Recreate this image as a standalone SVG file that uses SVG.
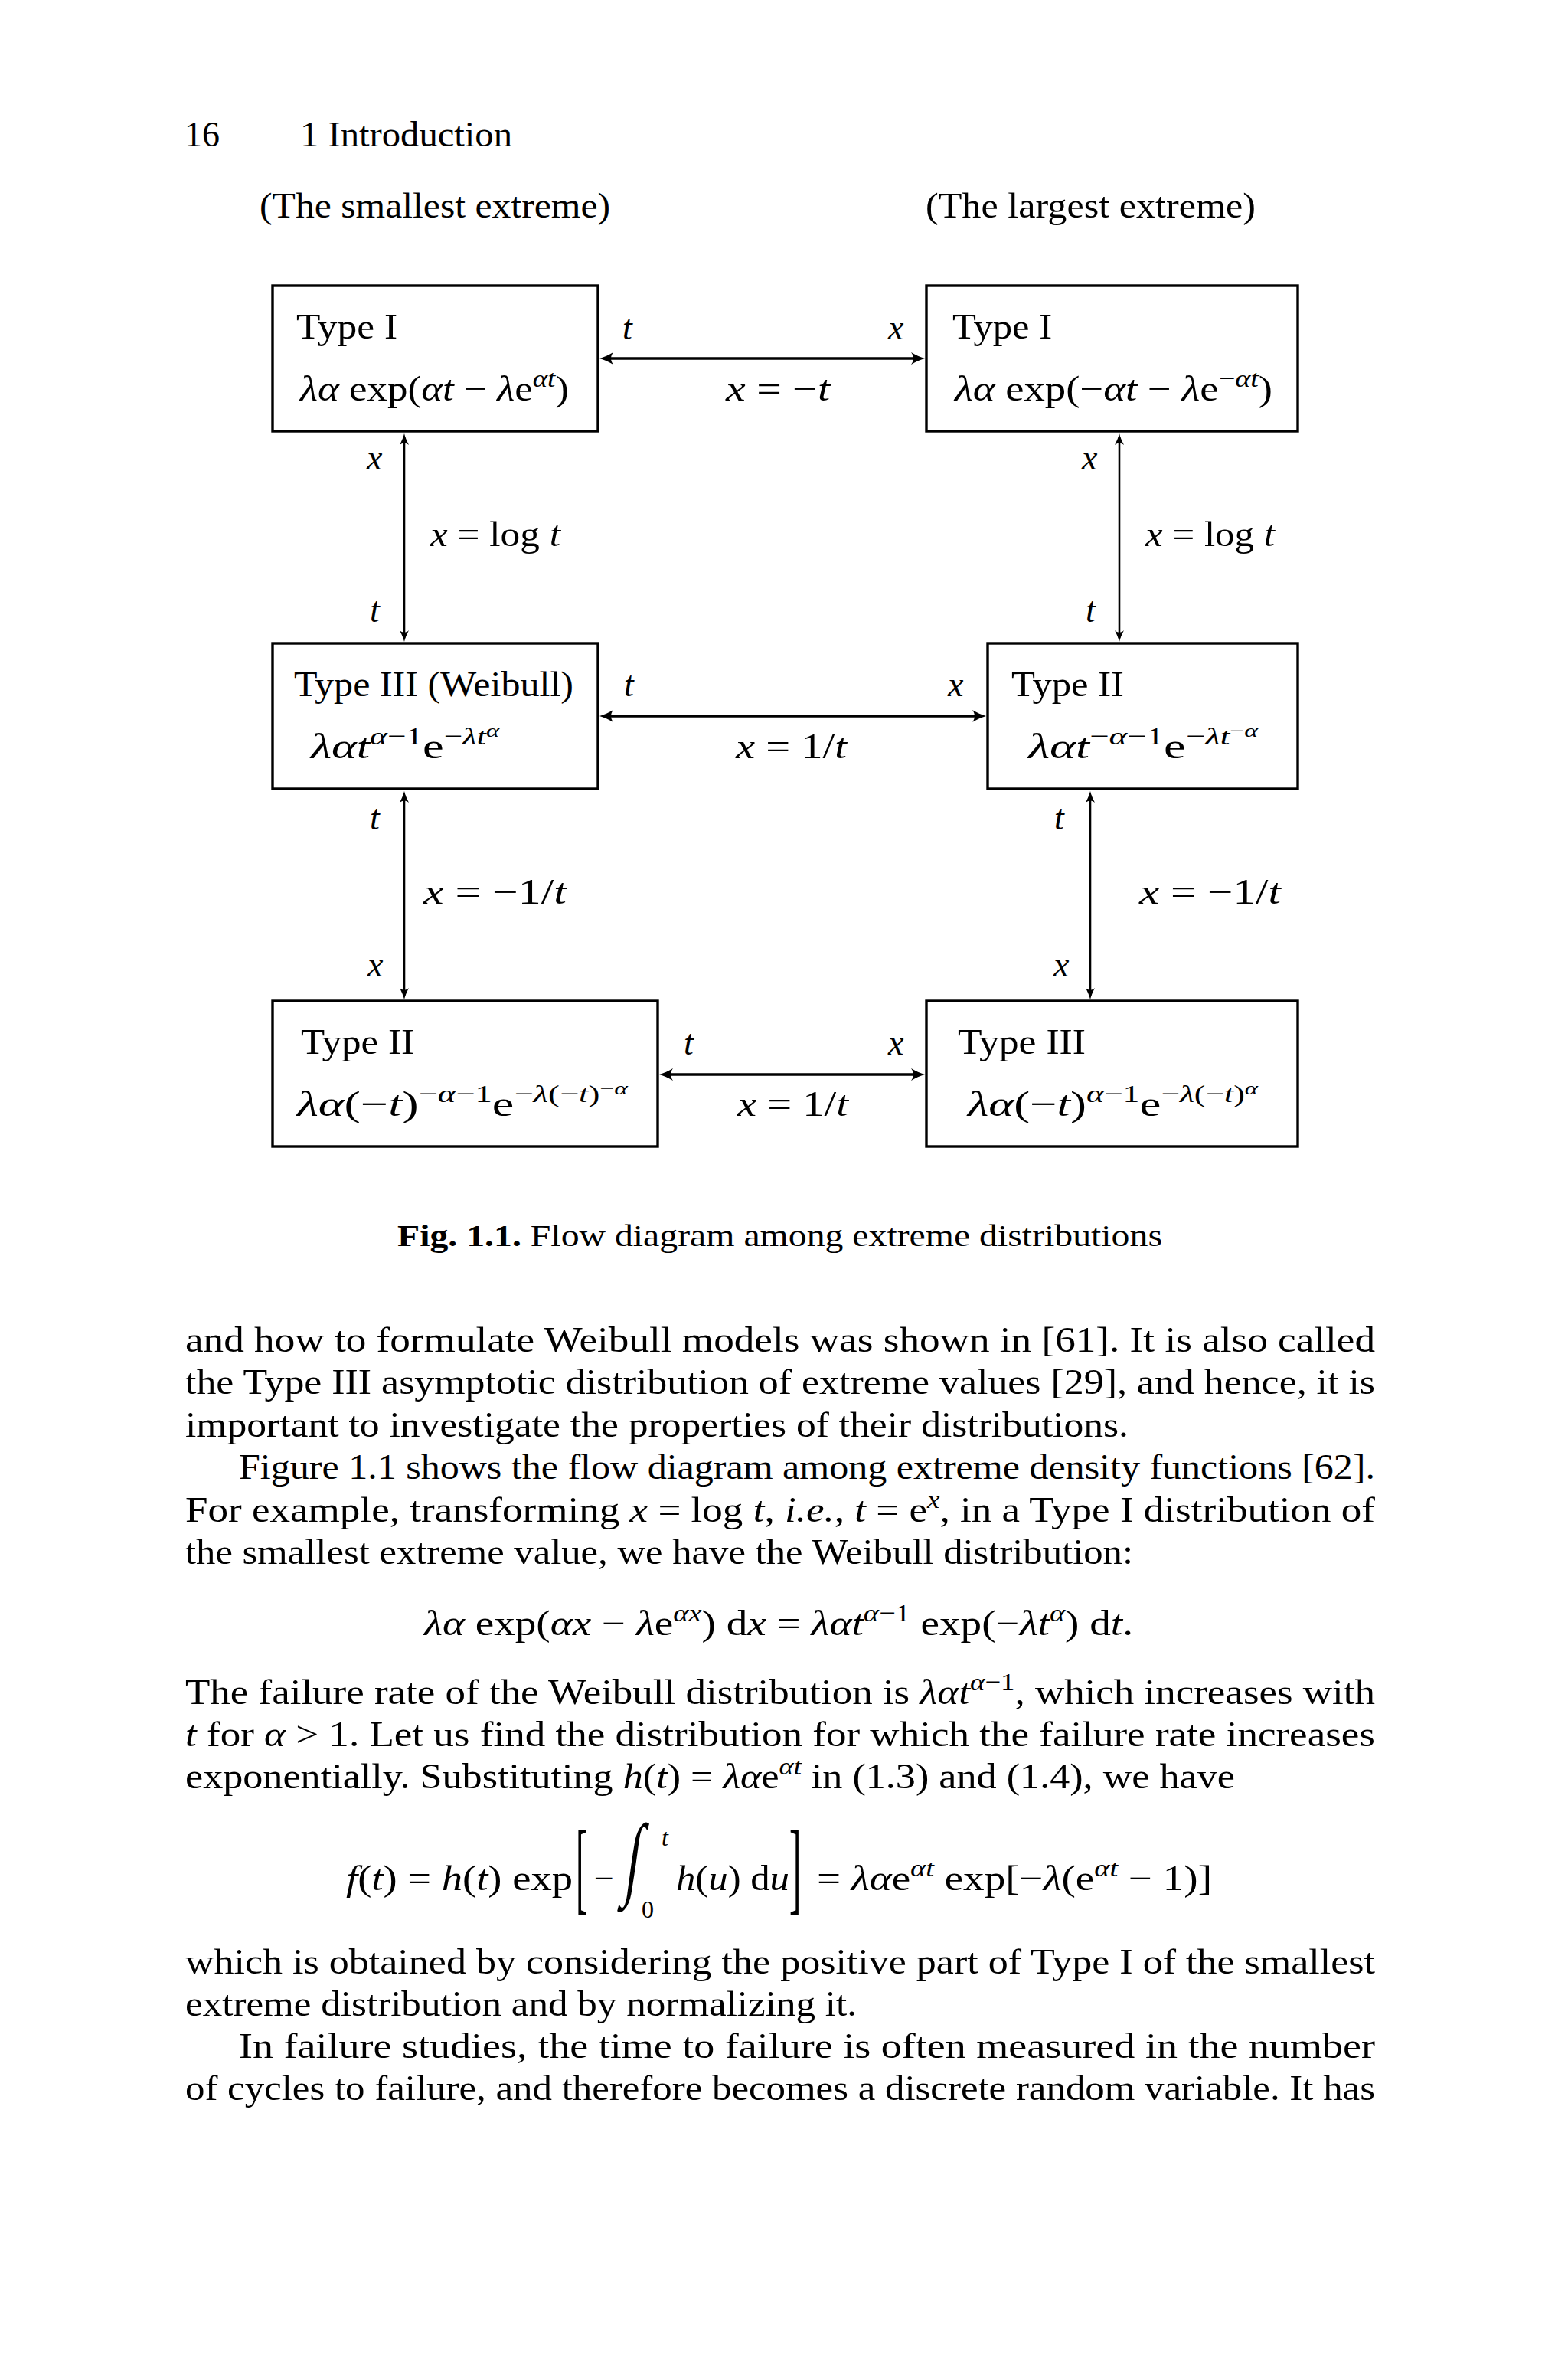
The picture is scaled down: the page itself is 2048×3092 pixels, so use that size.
<svg xmlns="http://www.w3.org/2000/svg" width="2048" height="3092" viewBox="0 0 2048 3092">
<style>
.t{font-family:"Liberation Serif","Times New Roman",serif;font-size:46px;fill:#000}
.c{font-size:41px}
.i{font-style:italic}
.b{font-weight:bold}
.s{font-size:32px}
.ss{font-size:24px}
.box{fill:#fff;stroke:#000;stroke-width:3.4}
.h{stroke:#000;stroke-width:3.4;fill:none;marker-start:url(#ah);marker-end:url(#ah)}
.v{stroke:#000;stroke-width:2.6;fill:none;marker-start:url(#av);marker-end:url(#av)}
</style>
<defs>
<marker id="ah" viewBox="-22 -10 26 20" markerWidth="26" markerHeight="20" refX="-6" refY="0" markerUnits="userSpaceOnUse" orient="auto-start-reverse" overflow="visible">
<path d="M0,0 C-6,-1.5 -12,-4.5 -18,-8 C-14,-3 -14,3 -18,8 C-12,4.5 -6,1.5 0,0 Z" fill="#000"/>
</marker>
<marker id="av" viewBox="-20 -10 24 20" markerWidth="24" markerHeight="20" refX="-5" refY="0" markerUnits="userSpaceOnUse" orient="auto-start-reverse" overflow="visible">
<path d="M0,0 C-5,-1.2 -10,-3.5 -15,-6 C-11.5,-2.5 -11.5,2.5 -15,6 C-10,3.5 -5,1.2 0,0 Z" fill="#000"/>
</marker>
</defs>
<rect width="2048" height="3092" fill="#fff"/>

<g id="header">
<text class="t" x="241" y="191">16</text>
<text class="t" x="392" y="191" textLength="277" lengthAdjust="spacingAndGlyphs">1 Introduction</text>
<text class="t" x="339" y="284" textLength="458" lengthAdjust="spacingAndGlyphs">(The smallest extreme)</text>
<text class="t" x="1209" y="284" textLength="431" lengthAdjust="spacingAndGlyphs">(The largest extreme)</text>
</g>

<g id="connectors">
<g id="c-row1">
<line class="h" x1="789" y1="468" x2="1202" y2="468"/>
<text class="t i" x="813" y="443">t</text>
<text class="t i" x="1160" y="443">x</text>
<text class="t" x="948" y="523" textLength="136" lengthAdjust="spacingAndGlyphs"><tspan class="i">x</tspan> = −<tspan class="i">t</tspan></text>
</g>
<g id="c-row2">
<line class="h" x1="789" y1="935" x2="1282" y2="935"/>
<text class="t i" x="815" y="909">t</text>
<text class="t i" x="1238" y="909">x</text>
<text class="t" x="961" y="990" textLength="145" lengthAdjust="spacingAndGlyphs"><tspan class="i">x</tspan> = 1/<tspan class="i">t</tspan></text>
</g>
<g id="c-row3">
<line class="h" x1="867" y1="1403" x2="1202" y2="1403"/>
<text class="t i" x="893" y="1377">t</text>
<text class="t i" x="1160" y="1377">x</text>
<text class="t" x="963" y="1457" textLength="145" lengthAdjust="spacingAndGlyphs"><tspan class="i">x</tspan> = 1/<tspan class="i">t</tspan></text>
</g>
<g id="c-left1">
<line class="v" x1="528" y1="571" x2="528" y2="833"/>
<text class="t i" x="479" y="613">x</text>
<text class="t" x="562" y="713" textLength="170" lengthAdjust="spacingAndGlyphs"><tspan class="i">x</tspan> = log <tspan class="i">t</tspan></text>
<text class="t i" x="483" y="812">t</text>
</g>
<g id="c-right1">
<line class="v" x1="1462" y1="571" x2="1462" y2="833"/>
<text class="t i" x="1413" y="613">x</text>
<text class="t" x="1496" y="713" textLength="169" lengthAdjust="spacingAndGlyphs"><tspan class="i">x</tspan> = log <tspan class="i">t</tspan></text>
<text class="t i" x="1418" y="812">t</text>
</g>
<g id="c-left2">
<line class="v" x1="528" y1="1038" x2="528" y2="1300"/>
<text class="t i" x="483" y="1083">t</text>
<text class="t" x="553" y="1180" textLength="187" lengthAdjust="spacingAndGlyphs"><tspan class="i">x</tspan> = −1/<tspan class="i">t</tspan></text>
<text class="t i" x="480" y="1275">x</text>
</g>
<g id="c-right2">
<line class="v" x1="1424" y1="1038" x2="1424" y2="1300"/>
<text class="t i" x="1377" y="1083">t</text>
<text class="t" x="1488" y="1180" textLength="185" lengthAdjust="spacingAndGlyphs"><tspan class="i">x</tspan> = −1/<tspan class="i">t</tspan></text>
<text class="t i" x="1376" y="1275">x</text>
</g>
</g>

<g id="n-type1-small">
<rect class="box" x="356" y="373" width="425" height="190"/>
<text class="t" x="387" y="442" textLength="132" lengthAdjust="spacingAndGlyphs">Type I</text>
<text class="t" x="392" y="523" textLength="351" lengthAdjust="spacingAndGlyphs"><tspan class="i">λα</tspan> exp(<tspan class="i">αt</tspan> − <tspan class="i">λ</tspan>e<tspan class="s i" dy="-18">αt</tspan><tspan dy="18">)</tspan></text>
</g>
<g id="n-type1-large">
<rect class="box" x="1210" y="373" width="485" height="190"/>
<text class="t" x="1244" y="442" textLength="130" lengthAdjust="spacingAndGlyphs">Type I</text>
<text class="t" x="1247" y="523" textLength="415" lengthAdjust="spacingAndGlyphs"><tspan class="i">λα</tspan> exp(−<tspan class="i">αt</tspan> − <tspan class="i">λ</tspan>e<tspan class="s" dy="-18">−<tspan class="i">αt</tspan></tspan><tspan dy="18">)</tspan></text>
</g>
<g id="n-type3-weibull">
<rect class="box" x="356" y="840" width="425" height="190"/>
<text class="t" x="384" y="909" textLength="365" lengthAdjust="spacingAndGlyphs">Type III (Weibull)</text>
<text class="t" x="406" y="990" textLength="246" lengthAdjust="spacingAndGlyphs"><tspan class="i">λαt</tspan><tspan class="s" dy="-18"><tspan class="i">α</tspan>−1</tspan><tspan dy="18">e</tspan><tspan class="s" dy="-18">−<tspan class="i">λt</tspan></tspan><tspan class="ss i" dy="-10">α</tspan></text>
</g>
<g id="n-type2-large">
<rect class="box" x="1290" y="840" width="405" height="190"/>
<text class="t" x="1321" y="909" textLength="147" lengthAdjust="spacingAndGlyphs">Type II</text>
<text class="t" x="1343" y="990" textLength="300" lengthAdjust="spacingAndGlyphs"><tspan class="i">λαt</tspan><tspan class="s" dy="-18">−<tspan class="i">α</tspan>−1</tspan><tspan dy="18">e</tspan><tspan class="s" dy="-18">−<tspan class="i">λt</tspan></tspan><tspan class="ss" dy="-10">−<tspan class="i">α</tspan></tspan></text>
</g>
<g id="n-type2-small">
<rect class="box" x="356" y="1307" width="503" height="190"/>
<text class="t" x="393" y="1376" textLength="148" lengthAdjust="spacingAndGlyphs">Type II</text>
<text class="t" x="388" y="1457" textLength="432" lengthAdjust="spacingAndGlyphs"><tspan class="i">λα</tspan>(−<tspan class="i">t</tspan>)<tspan class="s" dy="-18">−<tspan class="i">α</tspan>−1</tspan><tspan dy="18">e</tspan><tspan class="s" dy="-18">−<tspan class="i">λ</tspan>(−<tspan class="i">t</tspan>)</tspan><tspan class="ss" dy="-10">−<tspan class="i">α</tspan></tspan></text>
</g>
<g id="n-type3-large">
<rect class="box" x="1210" y="1307" width="485" height="190"/>
<text class="t" x="1251" y="1376" textLength="167" lengthAdjust="spacingAndGlyphs">Type III</text>
<text class="t" x="1264" y="1457" textLength="379" lengthAdjust="spacingAndGlyphs"><tspan class="i">λα</tspan>(−<tspan class="i">t</tspan>)<tspan class="s" dy="-18"><tspan class="i">α</tspan>−1</tspan><tspan dy="18">e</tspan><tspan class="s" dy="-18">−<tspan class="i">λ</tspan>(−<tspan class="i">t</tspan>)</tspan><tspan class="ss i" dy="-10">α</tspan></text>
</g>

<g id="caption">
<text class="t c" x="519" y="1627" textLength="999" lengthAdjust="spacingAndGlyphs"><tspan class="b">Fig. 1.1.</tspan> Flow diagram among extreme distributions</text>
</g>

<g id="body">
<text class="t" x="242" y="1765" textLength="1554" lengthAdjust="spacingAndGlyphs">and how to formulate Weibull models was shown in [61]. It is also called</text>
<text class="t" x="242" y="1820" textLength="1554" lengthAdjust="spacingAndGlyphs">the Type III asymptotic distribution of extreme values [29], and hence, it is</text>
<text class="t" x="242" y="1876" textLength="1232" lengthAdjust="spacingAndGlyphs">important to investigate the properties of their distributions.</text>
<text class="t" x="312" y="1931" textLength="1484" lengthAdjust="spacingAndGlyphs">Figure 1.1 shows the flow diagram among extreme density functions [62].</text>
<text class="t" x="242" y="1987" textLength="1554" lengthAdjust="spacingAndGlyphs">For example, transforming <tspan class="i">x</tspan> = log <tspan class="i">t</tspan>, <tspan class="i">i.e.</tspan>, <tspan class="i">t</tspan> = e<tspan class="s i" dy="-18">x</tspan><tspan dy="18">, in a Type I distribution of</tspan></text>
<text class="t" x="242" y="2042" textLength="1238" lengthAdjust="spacingAndGlyphs">the smallest extreme value, we have the Weibull distribution:</text>

<text class="t" x="554" y="2135" textLength="926" lengthAdjust="spacingAndGlyphs"><tspan class="i">λα</tspan> exp(<tspan class="i">αx</tspan> − <tspan class="i">λ</tspan>e<tspan class="s i" dy="-18">αx</tspan><tspan dy="18">) d</tspan><tspan class="i">x</tspan> = <tspan class="i">λαt</tspan><tspan class="s" dy="-18"><tspan class="i">α</tspan>−1</tspan><tspan dy="18"> exp(−</tspan><tspan class="i">λt</tspan><tspan class="s i" dy="-18">α</tspan><tspan dy="18">) d</tspan><tspan class="i">t</tspan>.</text>

<text class="t" x="242" y="2225" textLength="1554" lengthAdjust="spacingAndGlyphs">The failure rate of the Weibull distribution is <tspan class="i">λαt</tspan><tspan class="s" dy="-18"><tspan class="i">α</tspan>−1</tspan><tspan dy="18">, which increases with</tspan></text>
<text class="t" x="242" y="2280" textLength="1554" lengthAdjust="spacingAndGlyphs"><tspan class="i">t</tspan> for <tspan class="i">α</tspan> &gt; 1. Let us find the distribution for which the failure rate increases</text>
<text class="t" x="242" y="2335" textLength="1371" lengthAdjust="spacingAndGlyphs">exponentially. Substituting <tspan class="i">h</tspan>(<tspan class="i">t</tspan>) = <tspan class="i">λα</tspan>e<tspan class="s i" dy="-18">αt</tspan><tspan dy="18"> in (1.3) and (1.4), we have</tspan></text>

<g id="eq2">
<text class="t" x="452" y="2468" textLength="296" lengthAdjust="spacingAndGlyphs"><tspan class="i">f</tspan>(<tspan class="i">t</tspan>) = <tspan class="i">h</tspan>(<tspan class="i">t</tspan>) exp</text>
<text class="t" transform="translate(752,2482) scale(1,2.9)">[</text>
<text class="t" x="776" y="2468">−</text>
<text class="t" transform="translate(814,2465) skewX(-8) scale(1.1,1.93)" style="font-size:62px">∫</text>
<text class="t s i" x="864" y="2410">t</text>
<text class="t s" x="838" y="2504">0</text>
<text class="t" x="883" y="2468" textLength="148" lengthAdjust="spacingAndGlyphs"><tspan class="i">h</tspan>(<tspan class="i">u</tspan>) d<tspan class="i">u</tspan></text>
<text class="t" transform="translate(1031,2482) scale(1,2.9)">]</text>
<text class="t" x="1067" y="2468" textLength="516" lengthAdjust="spacingAndGlyphs">= <tspan class="i">λα</tspan>e<tspan class="s i" dy="-18">αt</tspan><tspan dy="18"> exp[−</tspan><tspan class="i">λ</tspan>(e<tspan class="s i" dy="-18">αt</tspan><tspan dy="18"> − 1)]</tspan></text>
</g>

<text class="t" x="242" y="2577" textLength="1554" lengthAdjust="spacingAndGlyphs">which is obtained by considering the positive part of Type I of the smallest</text>
<text class="t" x="242" y="2632" textLength="877" lengthAdjust="spacingAndGlyphs">extreme distribution and by normalizing it.</text>
<text class="t" x="312" y="2687" textLength="1484" lengthAdjust="spacingAndGlyphs">In failure studies, the time to failure is often measured in the number</text>
<text class="t" x="242" y="2742" textLength="1554" lengthAdjust="spacingAndGlyphs">of cycles to failure, and therefore becomes a discrete random variable. It has</text>
</g>
</svg>
